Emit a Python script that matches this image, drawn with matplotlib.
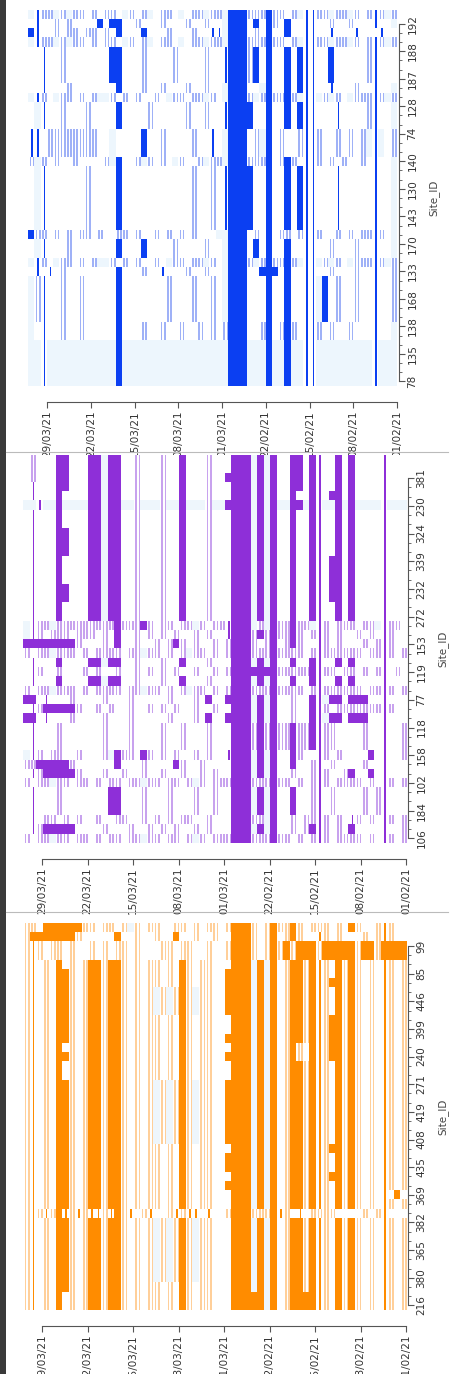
import numpy as np
import matplotlib
matplotlib.use("Agg")
import matplotlib.pyplot as plt
from matplotlib.colors import ListedColormap
from matplotlib.lines import Line2D

# day axis: 0 = 01/02/21 ... 58 = 31/03/21 (each string char = one day, left = latest)
n_days = 59
date_ticks = [0, 7, 14, 21, 28, 35, 42, 49, 56]
date_labels = ["01/02/21", "08/02/21", "15/02/21", "22/02/21", "01/03/21",
               "08/03/21", "15/03/21", "22/03/21", "29/03/21"]

# '#' full day, '|' short burst, ':' sparse detections, '.' faint (row recorded, no detection)
blue_rows = [
    (1, ".|::.:.:: " ": :: .: :." " :: . ::.:" ":.###:::#:" ": :.||::.:" ":.: :|:.:"),
    (1, " |  : :   " " # ##  :  " " :   :  : " " .### # #:" " #  ||  : " " :   |  ."),
    (1, "#|  : :: :" ": : #   # " "  :   :  |" "|.### : # " " #  ||  | " "  |   |  :"),
    (1, ".|::.:.:: " ": :: .: :." " :: . ::.:" ":.###:::#:" ": :.||::.:" ":.: :|:.:"),
    (4, "  |  :    " "   ##   : " "   :    : " " |###:# # " " # #||  # " "    :|   "),
    (1, "  |   :   " "    #   : " " :   :  : " " .###  .# " " # #||  | " "  :  |  ."),
    (1, ".|: .:: : " ":..: : :  " ": .:: ::.:" " .###:.:#:" ":#:.||.:.:" " .:::|:.:"),
    (3, " .|  :   :" "    #    :" "     :  : " " |####  # " " # #||   |" "    :|  ."),
    (3, "|| :::::::" ":  .    # " " :    :  |" " .### :.# " ":  :||:  :" " : :.|. :"),
    (1, ":.: :  :  " "  :.#  :.:" " : .:  :.:" ":.###:::# " ":#: ||: : " ":  : |  ."),
    (7, " .|      :" "    #     " "      :  :" " |####  # " " # #||   |" "     |  ."),
    (1, "#:: : : ::" " :  :: :  " ": : : :   " "..### : # " ":: :||:  :" " : ::|: ."),
    (2, " .|   :   " "    #   # " "   :    : " " .### # # " " #  ||  : " "  :  |  ."),
    (1, ".|: .:: : " ":..: : :  " ": .:: ::.:" " .###:.:#:" ":#:.||.:.:" " .:::|:.:"),
    (1, " | | :    " "    #   : " " |   :  : " " .###  ###" " #  ||  : " "  :  |  :"),
    (5, ".:|  :  : " "    #     " "  :   :  :" " .###   # " " #  ||.# :" "  :  |  :"),
    (2, ". |  :  : " "    #   : " " :  :  : :" " :###  :# " ":#: ||: : " " :   |  ."),
    (5, "..|......." "....#....." ".........." "..###...#." ".#..||...." ".....|..."),
]

purple_rows = [
    (2, " :   ##   " "##.##  :  " " :  #   : " "  ###.#.# " " ## #|  # " "#    |   "),
    (1, " :   ##   " "##.##  :  " " :  #   : " " ####.#.# " " ## #|  # " "#    |   "),
    (1, " |   ##   " "##.##  :  " " :  #   : " "  ###.#.# " " ## #|  # " "#    |   "),
    (1, " |   #    " "##.##  :  " " :  #   : " "  ###.#.# " " #  #| ## " "#    |   "),
    (1, "..|..#...." "##.##..:.." ".:..#...:." ".####.#.#." ".##.#|..#." "#....|..."),
    (2, " |   #    " "##.##  :  " " :  #   : " "  ###.#.# " " #  #|  # " "#    |   "),
    (3, " |   ##   " "##.##  :  " " :  #   : " "  ###.#.# " " #  #|  # " "#    |   "),
    (3, " |   #    " "##.##  :  " " :  #   : " "  ###.#.# " " #  #| ## " "#    |   "),
    (2, " |   ##   " "##.##  :  " " :  #   : " "  ###.#.# " " #  #| ## " "#    |   "),
    (2, " |   #    " "##.##  :  " " :  #   : " "  ###.#.# " " #  #|  # " "#    |   "),
    (1, ".|::.:::::" "::::#:::#:" " :: ::.: :" ":|###.:.#:" ":#::.|: ::" ": ::.|:: :"),
    (1, ".|: ::: ::" ": : #  : :" " : :  : : " " |###:#:#:" ":#: :|: : " " : : |:  :"),
    (1, "########: " "  : #  :  " ": :#: :  :" " :###: :# " ":#:  |: : " "  : :|:  :"),
    (1, ": ::.::: :" " :::: ::.:" ": : :.:: :" " :###:::#:" "::: :|::::" ":: ::|: :"),
    (1, " |   #    " "##.##  :  " " :  #   : " "  ###.#.# " " #  #|  # " "#    |   "),
    (1, " |:  :   :" " :  :  : :" " : :  :  :" " :#######:" "::::#|:: :" ": : :| : "),
    (1, " |   #    " "##.##  :  " " :  #   : " "  ###.#.# " " #  #|  # " "#    |   "),
    (1, ": ::.::: :" " :::: ::.:" ": : :.:: :" " :###:::#:" "::: :|::::" ":: ::|: :"),
    (1, "## |   :  " "  :   :   " "  :   : # " " ####.#.# " " :  #|.## " "###  |   "),
    (1, " |:#####: " " : :  :  :" " : :  :  :" "  ###.#.# " " :  #|: ::" ":::::|:  "),
    (1, "## |   :  " "  :   :   " "  :   : # " " ####.#.# " " :  #|.## " "###  |   "),
    (3, " |   :    " "  :   :   " " :  :   : " "  ###:#:#:" ":#::#|::  " "  :  |  :"),
    (1, ".|: ::  : " "  :.#:: #:" " : :  : : " " |###.#.# " " #:  |: : " "   # |  :"),
    (1, "::#####:  " "    #   : " "   #:  :  " "  ###.#.# " " #  :| :  " "  :  |   "),
    (1, " |:#####: " "  :  :  : " " :  :  : :" "  ###.#.# " " :  :|:  :" "#  # |   "),
    (1, ": ::.:: ::" " : :: ::.:" ": :: :.: :" "::###:::#:" ": : :|: ::" ":: : |: :"),
    (3, " |   :    " "   ##   : " "  :   :  :" "  ###.#.# " " #  :| :  " "  : :|   "),
    (1, " | :: : : " " :  ::  : " ": : ::  : " "  ###::.# " " : ::|: : " "|: : |: :"),
    (1, " |:#####  " "  :   :  :" " : :  : : " "  ###.#.# " " : :#|: : " "#    |  :"),
    (1, ": ::.:: ::" " : :: ::.:" ": :: :.: :" "::###:::#:" ": : :|: ::" ":: : |: :"),
]

orange_rows = [
    (1, ":: ######:" ": :: :.: :" ":  :: : ::" " :###: :#:" ":#: ::: : " "#:  :|:  :"),
    (1, ":#######: " "    #  :  " ":  #  :  :" "  ###: :# " ":#:  |: : " "  : :|:  :"),
    (2, ":|: :: :  " ": : :: :  " " :: ::  : " " :###: :#:" "#:###:####" "#:##:####"),
    (1, ":| : # : :" "##:##: : :" ": : #: :: " "  ###.#.# " ":##:#|: #:" "#: : |: :"),
    (1, ":| : ##: :" "##:##: : :" ": : #: :: " " ####.#.# " ":##:#|: #:" "#: : |: :"),
    (1, ":| : ##: :" "##:##: : :" ": : #: :: " " ####.#.# " ":##:#|:##:" "#: : |: :"),
    (3, ":| : ##: :" "##:##: : :" ".:.:#:.:: " " ####.#.# " ":##:#|: #:" "#: : |: :"),
    (2, ":| : ##: :" "##:##: : :" ": : #: :: " "  ###.#.# " ":##:#|:##:" "#: : |: :"),
    (1, ":| : ##: :" "##:##: : :" ": : #: :: " " ####.#.# " ":##:#|:##:" "#: : |: :"),
    (1, ":| : # : :" "##:##: : :" ": : #: :: " "  ###.#.# " ":#: #|:##:" "#: : |: :"),
    (1, ":| : ##: :" "##:##: : :" ": : #: :: " " ####.#.# " ":#: #|:##:" "#: : |: :"),
    (2, ":| : # : :" "##:##: : :" ": : #: :: " "  ###.#.# " ":##:#|: #:" "#: : |: :"),
    (7, ":| : ##: :" "##:##: : :" ".:.:#:.:: " " ####.#.# " ":##:#|: #:" "#: : |: :"),
    (1, ":| : ##: :" "##:##: : :" ": : #: :: " "  ###.#.# " ":##:#|:##:" "#: : |: :"),
    (2, ":| : ##: :" "##:##: : :" ": : #: :: " " ####.#.# " ":##:#|: #:" "#: : |: :"),
    (1, ":| : ##: :" "##:##: : :" ": : #: :: " "  ###.#.# " ":##:#|:##:" "#: : |: :"),
    (1, ":| : ##: :" "##:##: : :" ": : #: :: " " ####.#.# " ":##:#|: #:" "#: : |: :"),
    (1, ":| : ##: :" "##:##: : :" ": : #: :: " "  ###.#.# " ":##:#|: #:" "#: : | # "),
    (1, ":| : ##: :" "##:##: : :" ": : #: :: " "  ###.#.# " ":##:#|: #:" "#: : |: :"),
    (1, ":|:|:#|:|:" "||:|#:| :|" "  :|:|| | " " :###:::#|" ": | ::::  " "  : :|   "),
    (7, ":| : ##: :" "##:##: : :" ".:.:#:.:: " "  ###.#.# " ":##:#|: #:" "#: : |: :"),
    (1, ":| : ##: :" "##:##: : :" ": : #: :: " "  ###.#.# " ":##:#|: #:" "#: : |: :"),
    (2, ":| : # : :" "##:##: : :" ": : #: :: " "  #####.# " ":####|: #:" "#: : |: :"),
]

blue_sites = ["78", "135", "138", "168", "133", "170", "143", "130", "140", "74", "128", "187", "188", "192"]
purple_sites = ["106", "184", "102", "158", "118", "77", "119", "153", "272", "232", "339", "324", "230", "381"]
orange_sites = ["216", "380", "365", "382", "369", "435", "408", "419", "271", "240", "399", "446", "85", "99"]

SUB = {"#": [3, 3, 3, 3], "|": [0, 0, 3, 0], ":": [0, 2, 0, 2], ".": [1, 1, 1, 1], " ": [0, 0, 0, 0]}


def build(rows):
    mat = []
    for count, s in rows:
        s = s.ljust(n_days)[:n_days]
        line = []
        for ch in s:
            line += SUB.get(ch, [0, 0, 0, 0])
        for _ in range(count):
            mat.append(line)
    return np.array(mat)


panels = [
    # data, colours (faint, light, dark), sites, (left, top, right, bottom) in px
    (blue_rows, ["#edf6fd", "#9fb1f7", "#0b3ff2"], blue_sites, (28.25, 10, 397, 386)),
    (purple_rows, ["#eef6fc", "#c8a2ee", "#8e2fd8"], purple_sites, (22.5, 455, 406, 843)),
    (orange_rows, ["#eef6fc", "#ffcf99", "#ff8c00"], orange_sites, (22.5, 923, 406, 1310)),
]

W, H = 474, 1374
fig = plt.figure(figsize=(W / 100, H / 100), dpi=100)

for rows, cols, sites, (l, t, r, b) in panels:
    mat = build(rows)
    nrows = mat.shape[0]
    ax = fig.add_axes([l / W, 1 - b / H, (r - l) / W, (b - t) / H])
    cmap = ListedColormap(["white"] + cols)
    ax.imshow(mat, cmap=cmap, vmin=0, vmax=3, aspect="auto", interpolation="nearest",
              extent=(n_days, 0, 0, nrows), origin="upper")
    ax.set_xlim(n_days, 0)
    ax.set_ylim(0, nrows)

    for s in ["top", "left"]:
        ax.spines[s].set_visible(False)
    ax.spines["bottom"].set_position(("outward", 11.5))
    ax.spines["bottom"].set_bounds(0, 56)
    ax.spines["right"].set_position(("outward", 1.5))
    ax.spines["right"].set_bounds(0.5, 39.5)
    for s in ["bottom", "right"]:
        ax.spines[s].set_color("#555555")
        ax.spines[s].set_linewidth(0.8)

    ax.set_xticks(date_ticks)
    ax.set_xticklabels(date_labels, rotation=90, fontsize=7.5, color="#333333")
    ax.yaxis.tick_right()
    ax.set_yticks([k + 0.5 for k in range(0, 40)], minor=True)
    ax.set_yticks([k * 3 + 0.5 for k in range(len(sites))])
    ax.set_yticklabels(sites, rotation=90, va="center", fontsize=7.5, color="#333333")
    ax.tick_params(axis="y", which="minor", length=2.5, color="#555555", right=True, left=False)
    ax.tick_params(axis="both", which="major", length=4, color="#555555", pad=2)
    ax.yaxis.set_label_position("right")
    ax.set_ylabel("Site_ID", rotation=90, fontsize=7.5, color="#444444", labelpad=8)

# frame bits of the composed screenshot
fig.add_artist(plt.Rectangle((0, 0), 6 / W, 1, transform=fig.transFigure, color="#3a3a3a", lw=0))
for yy in [452, 912]:
    fig.add_artist(Line2D([6 / W, 448 / W], [1 - yy / H, 1 - yy / H], transform=fig.transFigure,
                          color="#bbbbbb", lw=0.8))

fig.savefig("out.png", dpi=100, facecolor="white")
